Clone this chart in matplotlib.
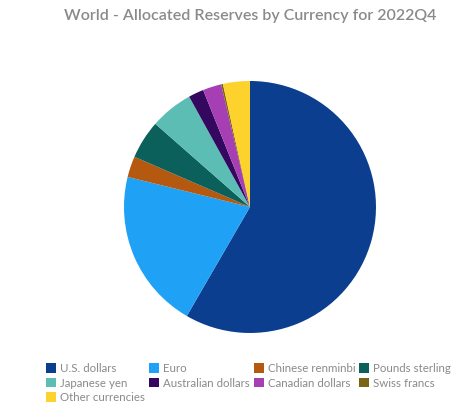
import matplotlib.pyplot as plt
from matplotlib.patches import Patch

currencies = ["U.S. dollars", "Euro", "Chinese renminbi", "Pounds sterling",
              "Japanese yen", "Australian dollars", "Canadian dollars",
              "Swiss francs", "Other currencies"]
shares = [58.36, 20.47, 2.69, 4.95, 5.51, 1.96, 2.38, 0.23, 3.45]

colors = ["#0b3e8f", "#1fa1f6", "#b4590f", "#0c605b", "#5cbdb5",
          "#34085f", "#a63fb4", "#7a6415", "#fdd22c"]

plt.rcParams['font.family'] = ['Lato', 'DejaVu Sans']

fig = plt.figure(figsize=(4.74, 4.19), dpi=100)
fig.patch.set_facecolor("white")

ax = fig.add_axes([0.2616, 0.2053, 0.5316, 0.6014])
ax.pie(shares, colors=colors, startangle=90, counterclock=False,
       radius=1.0, wedgeprops=dict(linewidth=0))
ax.set_xlim(-1, 1)
ax.set_ylim(-1, 1)
ax.set_aspect("equal")

fig.text(0.527, 0.962, "World - Allocated Reserves by Currency for 2022Q4",
         ha="center", va="center", fontsize=11.5, fontweight="semibold",
         color="#8a8a8a")

# legend is filled column by column, so reorder to read row by row
order = [0, 4, 8, 1, 5, 2, 6, 3, 7]
handles = [Patch(facecolor=colors[i], edgecolor="none") for i in order]
labels = [currencies[i] for i in order]
leg = fig.legend(handles, labels, ncol=4, loc="upper left",
                 bbox_to_anchor=(0.085, 0.147), frameon=False,
                 fontsize=8.3, labelcolor="#8a8a8a",
                 handlelength=0.9, handleheight=0.9, handletextpad=0.35,
                 columnspacing=0.3, labelspacing=0.3, borderpad=0)

fig.savefig("out.png", dpi=100)
